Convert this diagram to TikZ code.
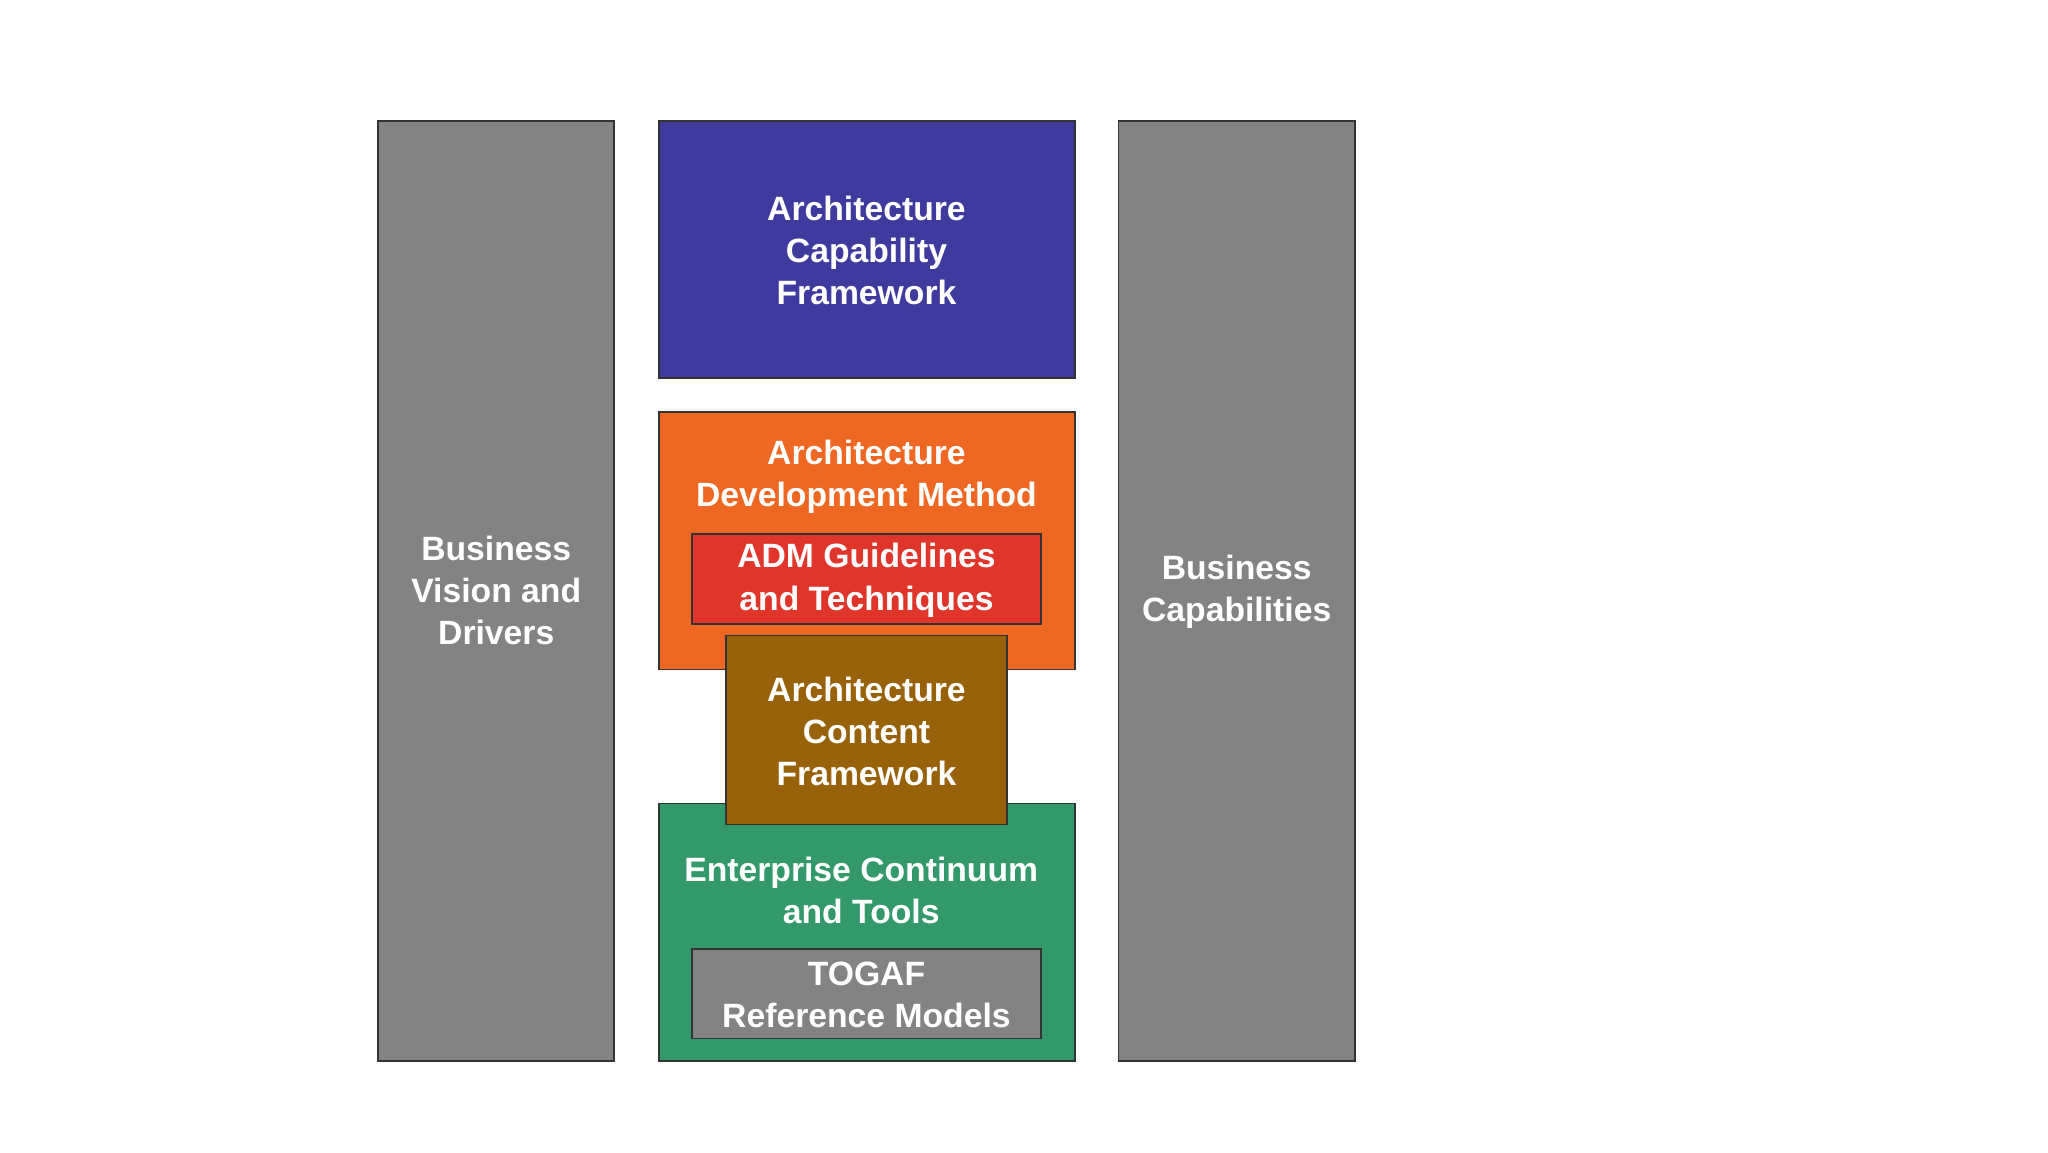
\documentclass[tikz,border=0pt]{standalone}
\usepackage{fontspec}
\setmainfont{Liberation Sans}
\definecolor{gr}{HTML}{838383}
\definecolor{bl}{HTML}{3F3B9E}
\definecolor{orr}{HTML}{EE6823}
\definecolor{rd}{HTML}{E0352B}
\definecolor{br}{HTML}{98620B}
\definecolor{gn}{HTML}{33996A}
\tikzset{blk/.style={draw=black!80,line width=0.4pt},
 lbl/.style={text=white,font=\bfseries\fontsize{7.3}{9.1}\selectfont,align=center}}
\begin{document}
\begin{tikzpicture}[x=0.01cm,y=-0.01cm]
\useasboundingbox (0,0) rectangle (1560,877.5);
\draw[blk,fill=gr] (288,92) rectangle (468,808);
\node[lbl] (bv) at (378,450) {Business\\Vision and\\Drivers};
\draw[blk,fill=gr] (852,92) rectangle (1032,808);
\node[lbl] (bc) at (942,451) {Business\\Capabilities};
\draw[blk,fill=bl] (502,92) rectangle (819,288);
\node[lbl] (acf) at (660,191) {Architecture\\Capability\\Framework};
\draw[blk,fill=orr] (502,314) rectangle (819,510);
\node[lbl] (adm) at (660,363) {Architecture\\Development Method};
\draw[blk,fill=rd] (527,407) rectangle (793,475);
\node[lbl] (gl) at (660,442) {ADM Guidelines\\and Techniques};
\draw[blk,fill=gn] (502,612) rectangle (819,808);
\node[lbl] (ec) at (656,678) {Enterprise Continuum\\and Tools};
\draw[blk,fill=gr] (527,723) rectangle (793,791);
\node[lbl] (trm) at (660,758) {TOGAF\\Reference Models};
\draw[blk,fill=br] (553,484) rectangle (767,628);
\node[lbl] (acnt) at (660,557) {Architecture\\Content\\Framework};
\end{tikzpicture}
\end{document}
